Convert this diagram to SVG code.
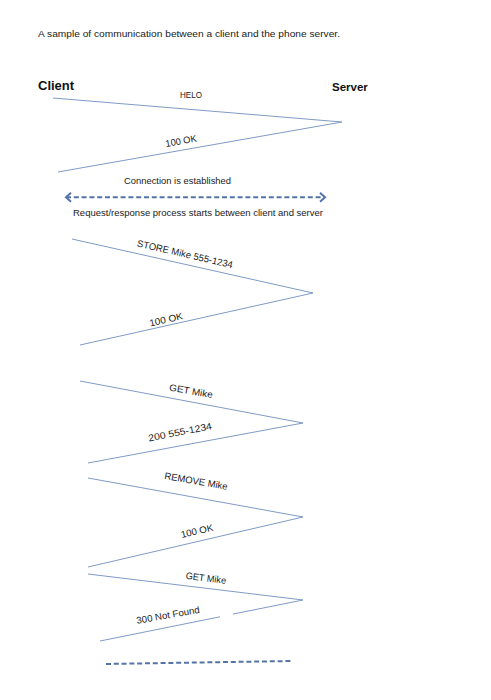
<svg xmlns="http://www.w3.org/2000/svg" width="491" height="700" viewBox="0 0 491 700">
<style>
text{font-family:"Liberation Sans",Arial,sans-serif;fill:#1a1a1a}
.t{font-size:9.3px}
.h{font-size:13px;font-weight:bold;fill:#111}
.l{font-size:9.5px}
.m{stroke:#7f9bc6;stroke-width:1;fill:none}
.d{stroke:#5474a8;stroke-width:2;fill:none;stroke-dasharray:5 2.8}
</style>
<defs>
<marker id="chev" viewBox="-2 -6 10 12" markerWidth="10" markerHeight="12" refX="5" refY="0" orient="auto-start-reverse" markerUnits="userSpaceOnUse">
<path d="M0,-4.5 L5,0 L0,4.5" fill="none" stroke="#5474a8" stroke-width="2"/>
</marker>
</defs>
<rect width="491" height="700" fill="#fff"/>
<text class="t" x="38" y="37" textLength="302" lengthAdjust="spacingAndGlyphs">A  sample of communication between a client and the phone server.</text>
<g id="client"><text class="h" x="38" y="90">Client</text></g>
<g id="server"><text class="h" x="332" y="90.5" style="font-size:11.5px">Server</text></g>
<g id="connectors">
<path class="m" d="M53,98 L342,122 L58,172"/>
<path class="m" d="M72,239 L313,293 L80,345"/>
<path class="m" d="M80,381 L303,423 L88,463"/>
<path class="m" d="M88,478 L303,517 L88,567"/>
<path class="m" d="M88,574 L303,600 L233,614.1 M220,616.8 L100,641"/>
<path class="d" d="M66,197.3 L325,197.3" marker-start="url(#chev)" marker-end="url(#chev)"/>
<path class="d" d="M106,664 L291,661"/>
</g>
<g id="labels">
<text class="l" x="191" y="98" text-anchor="middle" textLength="22" lengthAdjust="spacingAndGlyphs">HELO</text>
<text class="l" text-anchor="middle" textLength="31.5" lengthAdjust="spacingAndGlyphs" transform="translate(181,141) rotate(-10)" y="3.3">100 OK</text>
<text class="t" x="124" y="184" textLength="107" lengthAdjust="spacingAndGlyphs">Connection is established</text>
<text class="t" x="73" y="215.5" textLength="250" lengthAdjust="spacingAndGlyphs">Request/response process starts between client and server</text>
<text class="l" text-anchor="middle" textLength="98" lengthAdjust="spacingAndGlyphs" transform="translate(185,254) rotate(13)" y="3.3">STORE Mike 555-1234</text>
<text class="l" text-anchor="middle" textLength="34" lengthAdjust="spacingAndGlyphs" transform="translate(166,319.5) rotate(-12.6)" y="3.3">100 OK</text>
<text class="l" text-anchor="middle" textLength="44" lengthAdjust="spacingAndGlyphs" transform="translate(191,391) rotate(10)" y="3.3">GET Mike</text>
<text class="l" text-anchor="middle" textLength="64.5" lengthAdjust="spacingAndGlyphs" transform="translate(180,432) rotate(-11)" y="3.3">200 555-1234</text>
<text class="l" text-anchor="middle" textLength="64" lengthAdjust="spacingAndGlyphs" transform="translate(196,481) rotate(10)" y="3.3">REMOVE Mike</text>
<text class="l" text-anchor="middle" textLength="33" lengthAdjust="spacingAndGlyphs" transform="translate(197,531) rotate(-13)" y="3.3">100 OK</text>
<text class="l" text-anchor="middle" textLength="40.5" lengthAdjust="spacingAndGlyphs" transform="translate(206,578) rotate(7)" y="3.3">GET Mike</text>
<text class="l" text-anchor="middle" textLength="64" lengthAdjust="spacingAndGlyphs" transform="translate(168,615) rotate(-10)" y="3.3">300 Not Found</text>
</g>
</svg>
